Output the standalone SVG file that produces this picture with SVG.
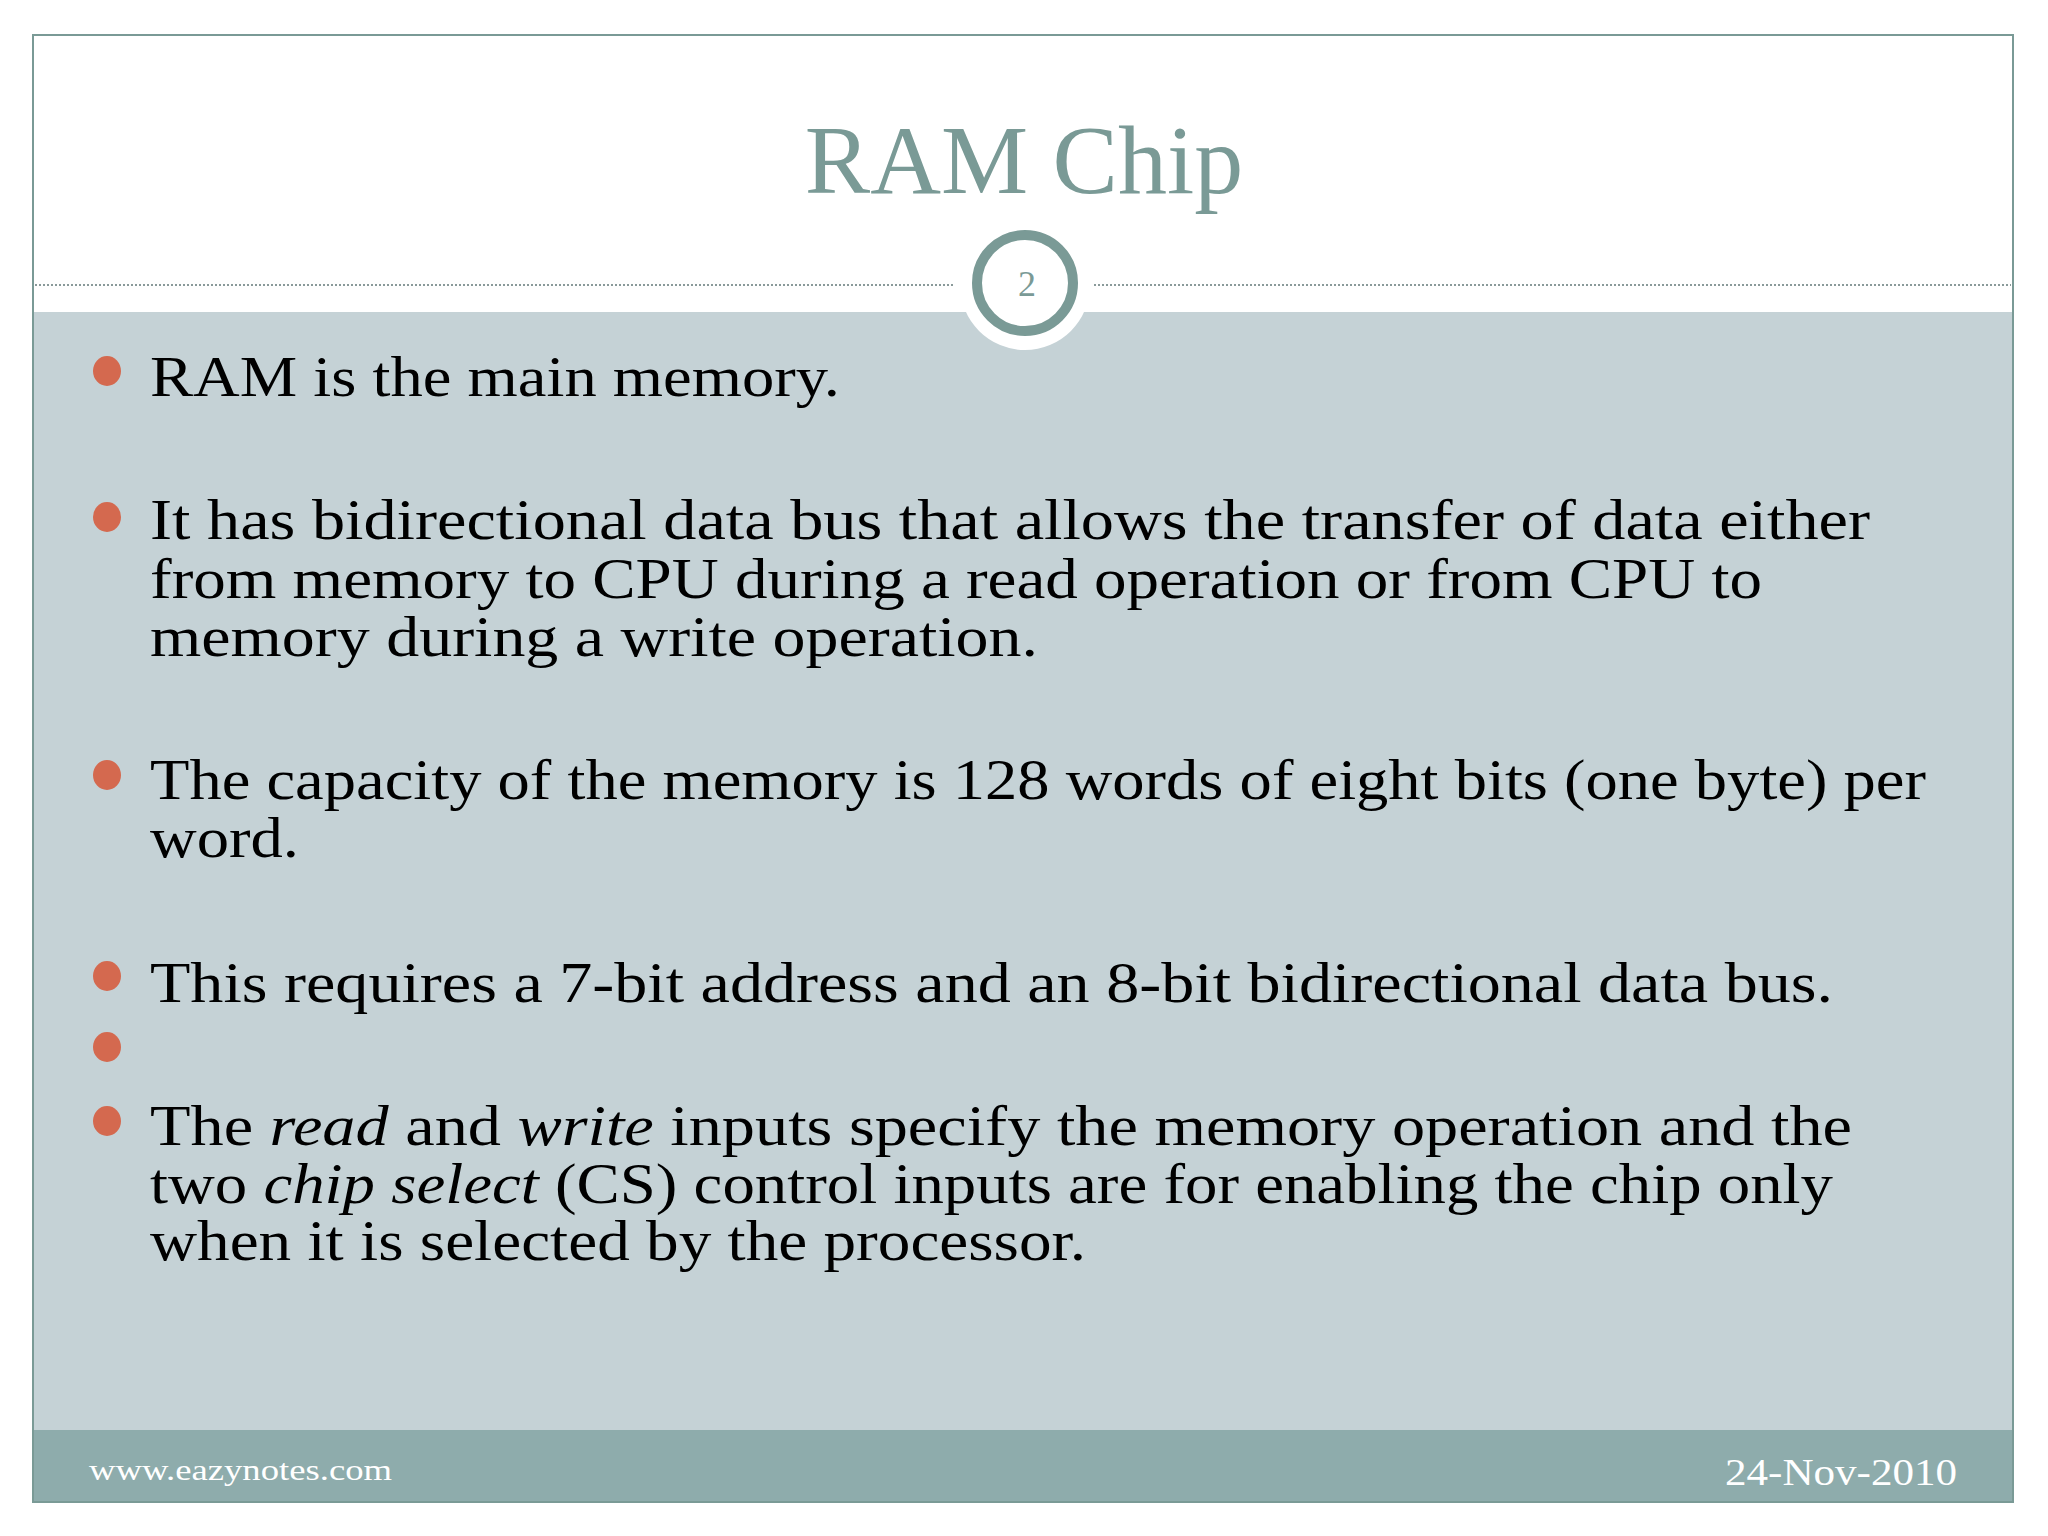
<svg xmlns="http://www.w3.org/2000/svg" width="2048" height="1536" viewBox="0 0 2048 1536">
<style>
.b{font-family:"Liberation Serif",serif;font-size:58px;fill:#000}
.d{fill:#d4694f}
</style>
<rect width="2048" height="1536" fill="#fff"/>
<rect x="33" y="312" width="1980" height="1118" fill="#c5d2d6"/>
<rect x="33" y="1430" width="1980" height="72" fill="#8eacac"/>
<rect x="33" y="35" width="1980" height="1467" fill="none" stroke="#7a9a96" stroke-width="2"/>
<g id="title"><text x="1024" y="193" text-anchor="middle" font-family="Liberation Serif,serif" font-size="98" fill="#7a9a96">RAM Chip</text></g>
<g id="divider">
<line x1="35" y1="285" x2="953" y2="285" stroke="#8a9a9a" stroke-width="2" stroke-dasharray="2,2"/>
<line x1="1094" y1="285" x2="2011" y2="285" stroke="#8a9a9a" stroke-width="2" stroke-dasharray="2,2"/>
<circle cx="1025" cy="285" r="65" fill="#fff"/>
<circle cx="1025" cy="283" r="48" fill="#fff" stroke="#7a9a96" stroke-width="10"/>
<text x="1027" y="296" text-anchor="middle" font-family="Liberation Serif,serif" font-size="36" fill="#7a9a96">2</text>
</g>
<g id="bullets">
<ellipse class="d" cx="107" cy="371" rx="14" ry="15"/>
<ellipse class="d" cx="107" cy="517" rx="14" ry="15"/>
<ellipse class="d" cx="107" cy="775" rx="14" ry="15"/>
<ellipse class="d" cx="107" cy="976" rx="14" ry="15"/>
<ellipse class="d" cx="107" cy="1047" rx="14" ry="15"/>
<ellipse class="d" cx="107" cy="1121" rx="14" ry="15"/>
<text class="b" x="150" y="396" textLength="690" lengthAdjust="spacingAndGlyphs">RAM is the main memory.</text>
<text class="b" x="150" y="539" textLength="1720" lengthAdjust="spacingAndGlyphs">It has bidirectional data bus that allows the transfer of data either</text>
<text class="b" x="150" y="598" textLength="1612" lengthAdjust="spacingAndGlyphs">from memory to CPU during a read operation or from CPU to</text>
<text class="b" x="150" y="656" textLength="888" lengthAdjust="spacingAndGlyphs">memory during a write operation.</text>
<text class="b" x="150" y="799" textLength="1776" lengthAdjust="spacingAndGlyphs">The capacity of the memory is 128 words of eight bits (one byte) per</text>
<text class="b" x="150" y="857" textLength="149" lengthAdjust="spacingAndGlyphs">word.</text>
<text class="b" x="150" y="1002" textLength="1683" lengthAdjust="spacingAndGlyphs">This requires a 7-bit address and an 8-bit bidirectional data bus.</text>
<text class="b" x="150" y="1145" textLength="1702" lengthAdjust="spacingAndGlyphs">The <tspan font-style="italic">read</tspan> and <tspan font-style="italic">write</tspan> inputs specify the memory operation and the</text>
<text class="b" x="150" y="1203" textLength="1683" lengthAdjust="spacingAndGlyphs">two <tspan font-style="italic">chip select</tspan> (CS) control inputs are for enabling the chip only</text>
<text class="b" x="150" y="1260" textLength="936" lengthAdjust="spacingAndGlyphs">when it is selected by the processor.</text>
</g>
<g id="footer">
<text x="89" y="1480" font-family="Liberation Serif,serif" font-size="30" fill="#fff" textLength="303" lengthAdjust="spacingAndGlyphs">www.eazynotes.com</text>
<text x="1725" y="1485" font-family="Liberation Serif,serif" font-size="37" fill="#fff" textLength="232" lengthAdjust="spacingAndGlyphs">24-Nov-2010</text>
</g>
</svg>
